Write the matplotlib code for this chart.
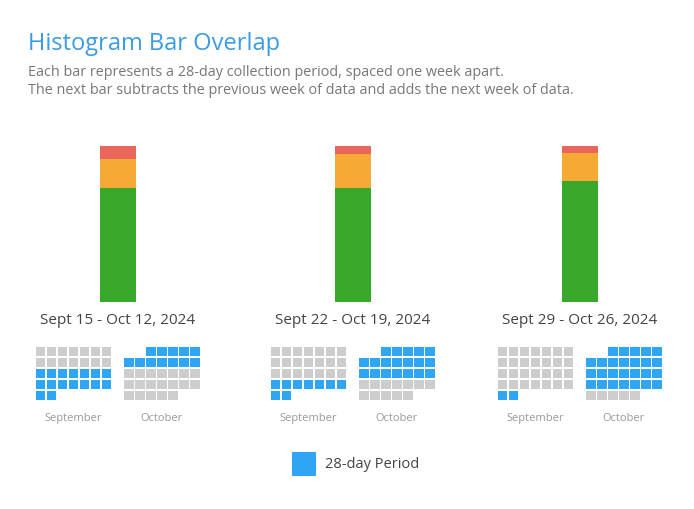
import calendar
import datetime as dt
import matplotlib
matplotlib.use("Agg")
import matplotlib.pyplot as plt
from matplotlib.patches import Rectangle

W, H = 694, 510
plt.rcParams["font.family"] = ["Open Sans", "DejaVu Sans"]

# data
periods = ["Sept 15 - Oct 12, 2024", "Sept 22 - Oct 19, 2024", "Sept 29 - Oct 26, 2024"]
starts = [dt.date(2024, 9, 15), dt.date(2024, 9, 22), dt.date(2024, 9, 29)]
green = [72.7, 72.7, 77.8]
orange = [18.7, 21.9, 17.5]
red = [8.6, 5.4, 4.7]
months = [(2024, 9, "September"), (2024, 10, "October")]
period_days = 28

GREEN, ORANGE, RED = "#38a82a", "#f6aa35", "#e9665b"
BLUE, GRAY = "#2ea6f4", "#cdcdcd"

fig = plt.figure(figsize=(W / 100, H / 100), dpi=100)


def box(x, y, w, h):
    # pixel box (from top-left) -> figure fraction rect
    return [x / W, 1 - (y + h) / H, w / W, h / H]


fig.text(28 / W, 1 - 44 / H, "Histogram Bar Overlap", fontsize=17, color="#3b9ce2",
         ha="left", va="center")
fig.text(28 / W, 1 - 72.5 / H, "Each bar represents a 28-day collection period, spaced one week apart.",
         fontsize=10.4, color="#777777", ha="left", va="center")
fig.text(28 / W, 1 - 91 / H, "The next bar subtracts the previous week of data and adds the next week of data.",
         fontsize=10.4, color="#777777", ha="left", va="center")

centers = [118, 353, 580]
for i, cx in enumerate(centers):
    ax = fig.add_axes(box(cx - 18, 147, 36, 155.5))
    ax.bar(0, green[i], width=1, color=GREEN)
    ax.bar(0, orange[i], bottom=green[i], width=1, color=ORANGE)
    ax.bar(0, red[i], bottom=green[i] + orange[i], width=1, color=RED)
    ax.set_xlim(-0.5, 0.5)
    ax.set_ylim(0, 100)
    ax.axis("off")
    fig.text(cx / W, 1 - 320.5 / H, periods[i], ha="center", va="center", fontsize=11, color="#444444")

    end = starts[i] + dt.timedelta(days=period_days - 1)
    for j, (yr, mo, name) in enumerate(months):
        x0 = cx - 82.9 + j * 88.3
        cax = fig.add_axes(box(x0, 346.8, 77, 55))
        first = dt.date(yr, mo, 1)
        off = (first.weekday() + 1) % 7
        ndays = calendar.monthrange(yr, mo)[1]
        for d in range(ndays):
            day = first + dt.timedelta(days=d)
            k = d + off
            col, row = k % 7, k // 7
            c = BLUE if starts[i] <= day <= end else GRAY
            cax.add_patch(Rectangle((col + 0.08, row + 0.08), 0.84, 0.84, color=c, lw=0))
        cax.set_xlim(0, 7)
        cax.set_ylim(5, 0)
        cax.axis("off")
        fig.text((x0 + 38.5) / W, 1 - 418.5 / H, name, ha="center", va="center", fontsize=8, color="#999999")

fig.add_artist(Rectangle((292 / W, 1 - 477 / H), 24 / W, 24 / H, transform=fig.transFigure,
                         color=BLUE, lw=0))
fig.text(325 / W, 1 - 465 / H, "28-day Period", ha="left", va="center", fontsize=10.5, color="#444444")

fig.savefig("out.png", dpi=100)
